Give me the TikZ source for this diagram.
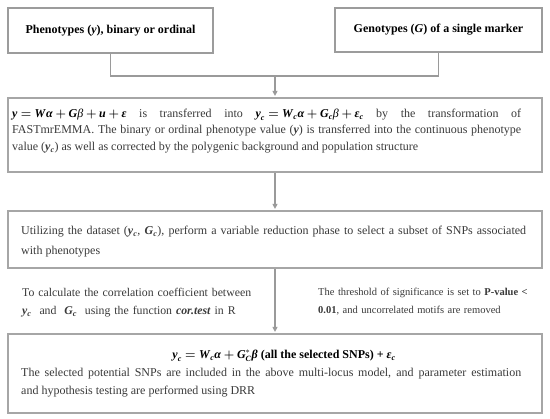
\documentclass[tikz,border=0pt]{standalone}
\usepackage{amsmath}
\usepackage{fontspec}
\setmainfont{Liberation Serif}
\usetikzlibrary{arrows.meta}
\definecolor{boxgray}{HTML}{A6A6A6}
\definecolor{titlegray}{HTML}{9C9C9C}
\definecolor{linegray}{HTML}{9A9A9A}
\definecolor{txt}{HTML}{3A3A3A}
\newcommand\bi[1]{\textbf{\textit{#1}}}
\newcommand\sbi[1]{\textsubscript{\bi{#1}}}
\newcommand\beq{\boldsymbol{=}}
\newcommand\bpl{\boldsymbol{+}}
\begin{document}
\begin{tikzpicture}[x=1pt,y=-1pt,
  titlebox/.style={draw=titlegray,line width=2.6pt,fill=white,minimum width=#1,inner sep=0pt,
     font=\fontsize{12}{14}\selectfont\bfseries},
  mainbox/.style={draw=boxgray,line width=2.2pt,fill=white,inner sep=0pt},
  bodytext/.style={anchor=base west,inner sep=0pt,text width=#1,align=justify,text=txt,
     font=\fontsize{12}{17.5}\selectfont},
  conn/.style={draw=linegray,line width=1.2pt},
  arr/.style={conn,-{Triangle[length=5pt,width=5pt]},shorten >=1pt}]
\useasboundingbox (0,0) rectangle (550,419);
\fill[white] (0,0) rectangle (550,419);

% title boxes
\node[titlebox=205pt,minimum height=45pt] (A) at (110.5,30.5) {Phenotypes (\bi{y}), binary or ordinal};
\node[titlebox=207pt,minimum height=44pt] (B) at (438.5,30) {Genotypes (\bi{G}) of a single marker};

% main boxes
\node[mainbox,minimum width=534pt,minimum height=74pt] (C) at (275,135) {};
\node[mainbox,minimum width=534pt,minimum height=57pt] (D) at (275,239.5) {};
\node[mainbox,minimum width=534pt,minimum height=79pt] (E) at (275,373.5) {};

% connectors
\coordinate (J) at (275,76);
\draw[conn] (A.south) |- (J);
\draw[conn] (B.south) |- (J);
\draw[arr] (J) -- (C.north);
\draw[arr] (C.south) -- (D.north);
\draw[arr] (D.south) -- (E.north);

% box C text
\node[bodytext=509pt,font=\fontsize{12}{16.5}\selectfont] (Ct) at (12,117.5) {%
\mbox{\color{black}$\bi{y}\beq\bi{W}\bi{α}\bpl\bi{G}\textit{β}\bpl\bi{u}\bpl\bi{ε}$} is transferred into
\mbox{\color{black}$\bi{y}_{\bi{c}}\beq\bi{W}_{\bi{c}}\bi{α}\bpl\bi{G}_{\bi{c}}\textit{β}\bpl\bi{ε}_{\bi{c}}$} by the transformation of\linebreak
FASTmrEMMA. The binary or ordinal phenotype value (\bi{y}) is transferred into the continuous phenotype\linebreak
value (\bi{y}\sbi{c}) as well as corrected by the polygenic background and population structure};

% box D text
\node[bodytext=505pt,font=\fontsize{12}{19.5}\selectfont] (Dt) at (21,235) {%
Utilizing the dataset (\bi{y}\sbi{c}, \bi{G}\sbi{c}), perform a variable reduction phase to select a subset of SNPs associated\linebreak
with phenotypes};

% side texts
\node[bodytext=250pt,align=left,font=\fontsize{11.8}{18}\selectfont] (L) at (22,296.5) {%
To calculate the correlation coefficient between\\
\bi{y}\sbi{c} \ and \ \bi{G}\sbi{c} \ using the function \bi{cor.test} in R};
\node[bodytext=225pt,align=left,font=\fontsize{10.5}{18}\selectfont] (R) at (318,295.5) {%
The threshold of significance is set to \textbf{P-value <}\\
\textbf{0.01}, and uncorrelated motifs are removed};

% box E text
\node[anchor=base,inner sep=0pt,font=\fontsize{12}{15}\selectfont\bfseries,text=black] (Et) at (284,358.5) {%
$\bi{y}_{\bi{c}}\beq\bi{W}_{\bi{c}}\bi{α}\bpl\bi{G}^{*}_{\bi{C}}\bi{β}$ (all the selected SNPs) + $\bi{ε}_{\bi{c}}$};
\node[bodytext=500pt] (Eb) at (21,377) {%
The selected potential SNPs are included in the above multi-locus model, and parameter estimation\linebreak
and hypothesis testing are performed using DRR};
\end{tikzpicture}
\end{document}
